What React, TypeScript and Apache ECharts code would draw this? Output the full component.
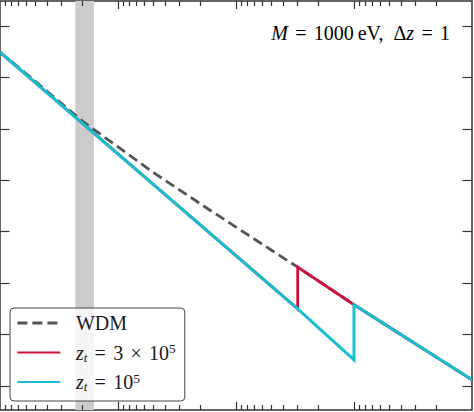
import React, { useEffect, useRef } from 'react';
import * as echarts from 'echarts';

// ---- data (x: redshift z, log axis reversed; y: log10 of the plotted quantity, arbitrary units) ----
const zMin = 1e4;
const zMax = 1e8;
const xMajorZ = [1e5, 1e6, 1e7];
const yMajor = [0, 1, 2, 3, 4, 5, 6, 7];
const yMin = -0.467;
const yMax = 7.486;
const bandZ = [1.6e7, 2.3e7];

const wdmZ = [1e8, 7e7, 5e7, 3e7, 2e7, 1.5e7, 1e7, 7e6, 5e6, 3e6, 2e6, 1e6, 5e5, 3e5, 1e5, 1e4];
const wdmY = [6.49, 6.2, 5.92, 5.49, 5.15, 4.94, 4.65, 4.39, 4.15, 3.81, 3.54, 3.09, 2.64, 2.31, 1.58, 0.12];

const zt3Z = [1e8, 3e5, 3e5, 1e5, 1e4];
const zt3Y = [6.49, 1.5, 2.31, 1.58, 0.12];

const zt1Z = [1e8, 3e5, 1e5, 1e5, 1e4];
const zt1Y = [6.49, 1.5, 0.51, 1.58, 0.12];

const seriesNames = ['WDM', 'zt = 3 × 10^5', 'zt = 10^5'];
const seriesColors = ['#555555', '#d0103a', '#17becf'];

const FONT = '"Liberation Serif", "DejaVu Serif", serif';

const lg = (v: number) => Math.log10(v);
const pairs = (zs: number[], ys: number[]) => zs.map((z, i) => [lg(z), ys[i]]);

const minorTicks: number[] = [];
for (let d = Math.round(lg(zMin)); d < Math.round(lg(zMax)); d++) {
  for (let k = 2; k <= 9; k++) minorTicks.push(d + Math.log10(k));
}

const TICK_COLOR = '#333';
const DASH = [10, 5];

function xAxisDef(position: 'top' | 'bottom', values: number[], length: number) {
  return {
    type: 'value',
    position,
    offset: 0,
    min: lg(zMin),
    max: lg(zMax),
    inverse: true,
    z: 10,
    axisLine: { show: false, onZero: false },
    axisLabel: { show: false },
    splitLine: { show: false },
    axisTick: {
      show: true,
      inside: true,
      length,
      customValues: values,
      lineStyle: { color: TICK_COLOR, width: 1.2 },
    },
  };
}

function yAxisDef(position: 'left' | 'right') {
  return {
    type: 'value',
    position,
    offset: 0,
    min: yMin,
    max: yMax,
    z: 10,
    axisLine: { show: false, onZero: false },
    axisLabel: { show: false },
    splitLine: { show: false },
    axisTick: {
      show: true,
      inside: true,
      length: 9.5,
      customValues: yMajor,
      lineStyle: { color: TICK_COLOR, width: 1.2 },
    },
  };
}

const TXT = '#1a1a1a';
const richMain = {
  n: { fontFamily: FONT, fontSize: 20, lineHeight: 22, color: TXT },
  op: { fontFamily: FONT, fontSize: 20, lineHeight: 22, color: TXT, padding: [0, 2.3, 0, 2.3] },
  i: { fontFamily: FONT, fontSize: 20, lineHeight: 22, fontStyle: 'italic', color: TXT },
  sub: { fontFamily: FONT, fontSize: 13, lineHeight: 15, fontStyle: 'italic', verticalAlign: 'bottom', color: TXT },
  sup: { fontFamily: FONT, fontSize: 13.5, lineHeight: 14, verticalAlign: 'top', color: TXT },
  g: { fontSize: 10, width: 10.5, lineHeight: 22 },
};

const legendLabels: Record<string, string> = {
  [seriesNames[0]]: '{g| }{n|WDM}',
  [seriesNames[1]]: '{g| }{i|z}{sub|t}{n| }{op|=}{n| 3 }{op|×}{n| 10}{sup|5}',
  [seriesNames[2]]: '{g| }{i|z}{sub|t}{n| }{op|=}{n| 10}{sup|5}',
};

export default function App() {
  const ref = useRef<HTMLDivElement>(null);
  useEffect(() => {
    if (!ref.current) return;
    const chart = echarts.init(ref.current, null, { renderer: 'svg' });
    const lineSeries = [
      { data: pairs(wdmZ, wdmY), width: 2.8, type: DASH as any },
      { data: pairs(zt3Z, zt3Y), width: 2.8, type: 'solid' },
      { data: pairs(zt1Z, zt1Y), width: 3, type: 'solid' },
    ].map((s, i) => ({
      type: 'line',
      name: seriesNames[i],
      xAxisIndex: 0,
      yAxisIndex: 0,
      data: s.data,
      symbol: 'none',
      z: 3,
      lineStyle: { color: seriesColors[i], width: s.width, type: s.type, cap: 'butt', join: 'miter' },
      itemStyle: { color: seriesColors[i] },
      emphasis: { disabled: true },
    }));
    chart.setOption({
      animation: false,
      backgroundColor: '#ffffff',
      grid: {
        left: 0,
        right: 2,
        top: 1,
        bottom: 2,
        show: true,
        borderColor: '#333',
        borderWidth: 1.5,
        backgroundColor: 'transparent',
        containLabel: false,
        outerBoundsMode: 'none',
      },
      xAxis: [
        xAxisDef('bottom', xMajorZ.map(lg), 8),
        xAxisDef('bottom', minorTicks, 5),
        xAxisDef('top', xMajorZ.map(lg), 8),
        xAxisDef('top', minorTicks, 5),
      ],
      yAxis: [yAxisDef('left'), yAxisDef('right')],
      legend: {
        data: [
          { name: seriesNames[0], lineStyle: { type: DASH, width: 2.8, dashOffset: 0 } },
          { name: seriesNames[1] },
          { name: seriesNames[2] },
        ],
        orient: 'vertical',
        left: 10,
        top: 308,
        itemWidth: 43,
        itemHeight: 14,
        itemGap: 7.5,
        padding: [4, 9, 8, 6],
        selectedMode: false,
        backgroundColor: 'rgba(255,255,255,0.8)',
        borderColor: '#444',
        borderWidth: 1,
        borderRadius: 4,
        itemStyle: { opacity: 0, borderWidth: 0 },
        formatter: (name: string) => legendLabels[name] ?? name,
        textStyle: { fontFamily: FONT, fontSize: 20, lineHeight: 22, color: TXT, rich: richMain },
      },
      graphic: [
        {
          type: 'text',
          right: 24,
          top: 23,
          z: 20,
          style: {
            text: '{i|M}{n| }{op|=}{n| 1000\u2009eV,  Δ}{i|z}{n| }{op|=}{n| 1}',
            rich: richMain,
            font: `20px ${FONT}`,
          },
        },
      ],
      series: [
        {
          type: 'line',
          name: 'band',
          xAxisIndex: 0,
          yAxisIndex: 0,
          data: [],
          z: 1,
          silent: true,
          markArea: {
            silent: true,
            z: 1,
            itemStyle: { color: '#cccccc' },
            data: [[{ xAxis: lg(bandZ[1]) }, { xAxis: lg(bandZ[0]) }]],
          },
        },
        ...lineSeries,
      ],
    });
    return () => chart.dispose();
  }, []);
  return (
    <div
      ref={ref}
      style={{ position: 'absolute', left: 0, top: 0, width: 474, height: 412 }}
    />
  );
}
